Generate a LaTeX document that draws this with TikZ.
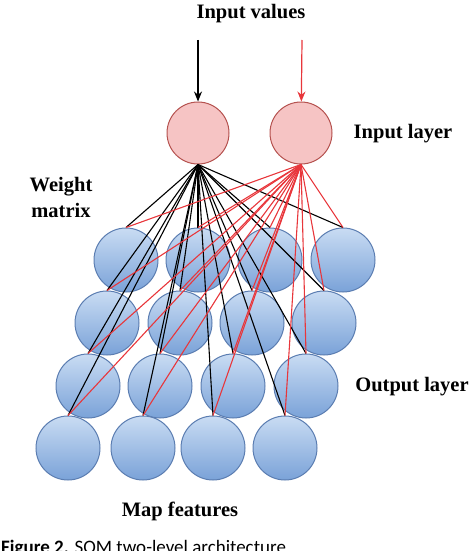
\documentclass[tikz,border=0pt]{standalone}
\usepackage{fontspec}
\setmainfont{Liberation Serif}
\newfontfamily\capfont{Carlito}
\usepackage{tikz}
\usetikzlibrary{arrows.meta}
\usetikzlibrary{positioning}

\definecolor{inFill}{HTML}{F6C4C4}
\definecolor{inDraw}{HTML}{B5524F}
\definecolor{outTop}{HTML}{C9DCF3}
\definecolor{outBot}{HTML}{7AA2D8}
\definecolor{outDraw}{HTML}{5B7DB1}
\definecolor{wRed}{HTML}{E8363B}

\begin{document}
\begin{tikzpicture}[x=1pt, y=-1pt,
    inunit/.style={draw=inDraw, fill=inFill, circle, line width=1pt, minimum size=62pt, inner sep=0pt},
    outunit/.style={draw=outDraw, circle, top color=outTop, bottom color=outBot, line width=1pt, minimum size=64pt, inner sep=0pt},
    lbl/.style={font=\fontsize{20.5}{26}\selectfont\bfseries, align=center},
    wire/.style={line width=1.1pt},
    feed/.style={line width=1.2pt, -{Stealth[length=10pt, width=8pt]}}]
    \useasboundingbox (0, 0) rectangle (474, 551);

    % input layer
    \node(in1) [inunit] at (198, 133) {};
    \node(in2) [inunit] at (301, 133) {};

    \coordinate (src1) at (198, 40);
    \coordinate (src2) at (302, 40);
    \draw[feed] (src1) -- (in1);
    \draw[feed, wRed] (src2) -- (in2);

    % output layer, row by row
    \node(o11) [outunit] at (126, 260) {};
    \node(o12) [outunit] at (198, 260) {};
    \node(o13) [outunit] at (270, 260) {};
    \node(o14) [outunit] at (343, 260) {};

    \node(o21) [outunit] at (107, 323) {};
    \node(o22) [outunit] at (180, 323) {};
    \node(o23) [outunit] at (252, 323) {};
    \node(o24) [outunit] at (324, 323) {};

    \node(o31) [outunit] at (88, 386) {};
    \node(o32) [outunit] at (160, 386) {};
    \node(o33) [outunit] at (233, 386) {};
    \node(o34) [outunit] at (306, 386) {};

    \node(o41) [outunit] at (68, 448) {};
    \node(o42) [outunit] at (143, 448) {};
    \node(o43) [outunit] at (213, 448) {};
    \node(o44) [outunit] at (285, 448) {};

    % weight matrix
    \foreach \o in {o11,o12,o13,o14,o21,o22,o23,o24,o31,o32,o33,o34,o41,o42,o43,o44}
      \draw[wire] (in1.south) -- (\o.north);
    \foreach \o in {o11,o12,o13,o14,o21,o22,o23,o24,o31,o32,o33,o34,o41,o42,o43,o44}
      \draw[wire, wRed] (in2.south) -- (\o.north);

    % labels
    \node(values) [lbl] at (251, 14) {Input values};
    \node(inlabel) [lbl] at (403, 134) {Input layer};
    \node(weights) [lbl] at (61, 197) {Weight\\matrix};
    \node(outlabel) [lbl] at (412, 387) {Output layer};
    \node(features) [lbl] at (180, 511) {Map features};

    \node(caption) [anchor=base west, inner sep=0pt, font=\capfont\fontsize{19}{22}\selectfont] at (1, 553)
      {\textbf{Figure 2.} SOM two-level architecture};
  \end{tikzpicture}
\end{document}
